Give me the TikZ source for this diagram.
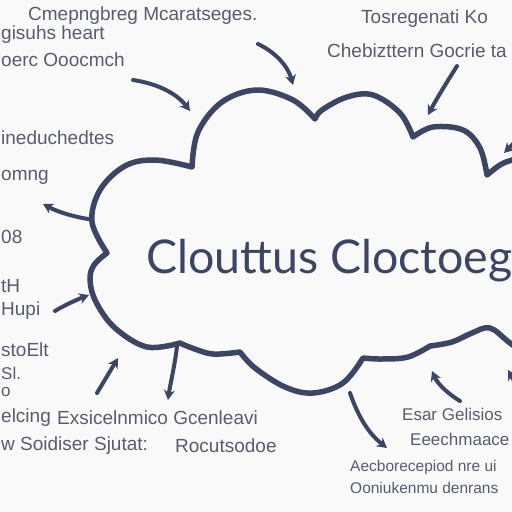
\documentclass[tikz,border=0pt]{standalone}
\usepackage{fontspec}
\setmainfont{Liberation Sans}
\newfontfamily\titlefont{Lato}
\usetikzlibrary{arrows.meta}
\definecolor{ink}{HTML}{3C4563}
\definecolor{txt}{HTML}{585C6C}
\definecolor{bg}{HTML}{F9F9FA}
\tikzset{
  cloudline/.style={draw=ink, line width=5.5pt, line join=round, line cap=round},
  arr/.style={draw=ink, line width=4pt, line cap=round, -{Stealth[length=10pt,width=11pt]}},
  lbl/.style={text=txt, anchor=west, inner sep=0pt, font=\fontsize{19}{19}\selectfont},
  sml/.style={lbl, font=\fontsize{17}{17}\selectfont},
  tiny/.style={lbl, font=\fontsize{15.5}{15.5}\selectfont},
}
\begin{document}
\begin{tikzpicture}[x=1pt,y=-1pt]
\useasboundingbox (0,0) rectangle (512,512);
\fill[bg] (0,0) rectangle (512,512);
\clip (0,0) rectangle (512,512);
% cloud
\draw[cloudline]
  plot[smooth,tension=0.6] coordinates {(540,365) (510,343) (490,328) (472,333) (452,342) (430,346)}
  -- plot[smooth,tension=0.6] coordinates {(430,346) (408,357) (382,359) (363,358)}
  -- plot[smooth,tension=0.6] coordinates {(363,358) (343,383) (313,393) (285,387) (255,368) (240,352)}
  -- plot[smooth,tension=0.6] coordinates {(240,352) (213,354) (192,348) (180,343)}
  -- plot[smooth,tension=0.6] coordinates {(180,343) (147,347) (115,328) (96,302) (90,280) (94,265) (107,253)}
  -- plot[smooth,tension=0.6] coordinates {(107,253) (92,222) (100,190) (125,166) (155,160) (192,167)}
  -- plot[smooth,tension=0.6] coordinates {(192,167) (198,132) (222,102) (257,90) (293,100) (315,119)}
  -- plot[smooth,tension=0.6] coordinates {(315,119) (322,110) (347,97) (373,95) (400,113) (413,137)}
  -- plot[smooth,tension=0.6] coordinates {(413,137) (433,127) (463,130) (480,148) (487,175)}
  -- plot[smooth,tension=0.6] coordinates {(487,175) (500,165) (512,160) (540,152)};
% title
\node[anchor=base west, inner sep=0pt, text=ink, font=\titlefont\fontsize{46.5}{46.5}\selectfont] (title) at (146,273) {Clouttus Cloctoeg};
% arrows
\coordinate (a1s) at (133,80);  \coordinate (a1e) at (190,111);
\coordinate (a2s) at (258,44);  \coordinate (a2e) at (293,85);
\coordinate (a3s) at (457,66);  \coordinate (a3e) at (428,115);
\coordinate (a4s) at (522,135); \coordinate (a4e) at (504,153);
\coordinate (a5s) at (88,219);  \coordinate (a5e) at (43,204);
\coordinate (a6s) at (55,311);  \coordinate (a6e) at (89,295);
\coordinate (a7s) at (97,393);  \coordinate (a7e) at (118,358);
\coordinate (a8s) at (177,346); \coordinate (a8e) at (168,400);
\coordinate (a9s) at (350,393); \coordinate (a9e) at (387,448);
\coordinate (a10s) at (460,401); \coordinate (a10e) at (432,371);
\coordinate (a11s) at (522,395); \coordinate (a11e) at (508,370);
\draw[arr] (a1s) .. controls (160,84) and (178,95) .. (a1e);
\draw[arr] (a2s) .. controls (275,52) and (288,66) .. (a2e);
\draw[arr] (a3s) .. controls (447,82) and (437,98) .. (a3e);
\draw[arr] (a4s) -- (a4e);
\draw[arr] (a5s) .. controls (70,216) and (56,211) .. (a5e);
\draw[arr] (a6s) .. controls (65,305) and (76,300) .. (a6e);
\draw[arr] (a7s) -- (a7e);
\draw[arr] (a8s) .. controls (175,365) and (170,385) .. (a8e);
\draw[arr] (a9s) .. controls (358,416) and (368,433) .. (a9e);
\draw[arr] (a10s) .. controls (450,395) and (438,385) .. (a10e);
\draw[arr] (a11s) -- (a11e);
% labels
\node[lbl] (t1) at (28,16) {Cmepngbreg Mcaratseges.};
\node[lbl] (t2) at (1,35) {gisuhs heart};
\node[lbl] (t3) at (1,60) {oerc Ooocmch};
\node[lbl] (t4) at (361,19) {Tosregenati Ko};
\node[lbl] (t5) at (327,51) {Chebizttern Gocrie ta};
\node[lbl] (t6) at (1,138) {ineduchedtes};
\node[lbl] (t7) at (1,177) {omng};
\node[lbl] (t8) at (1,237) {08};
\node[lbl] (t9) at (1,286) {tH};
\node[lbl] (t10) at (1,311) {Hupi};
\node[lbl] (t11) at (1,350) {stoElt};
\node[sml] (t12) at (1,373) {Sl.};
\node[sml] (t13) at (1,392) {o};
\node[lbl] (t14) at (1,418) {elcing};
\node[lbl] (t15) at (57,418) {Exsicelnmico Gcenleavi};
\node[lbl] (t16) at (1,446) {w Soidiser Sjutat:};
\node[lbl] (t17) at (175,446) {Rocutsodoe};
\node[sml] (t18) at (402,414) {Esar Gelisios};
\node[sml] (t19) at (410,439) {Eeechmaace};
\node[tiny] (t20) at (350,467) {Aecborecepiod nre ui};
\node[tiny] (t21) at (350,488) {Ooniukenmu denrans};
\end{tikzpicture}
\end{document}
